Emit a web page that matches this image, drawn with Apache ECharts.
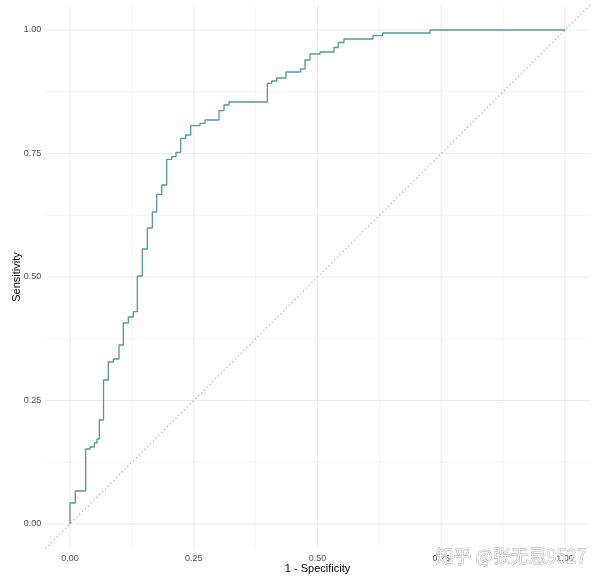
<!DOCTYPE html>
<html>
<head>
<meta charset="utf-8">
<script src="https://cdn.jsdelivr.net/npm/echarts@6/dist/echarts.min.js"></script>
<style>html,body{margin:0;padding:0;background:#fff;}#c{width:600px;height:581px;}</style>
</head>
<body>
<div id="c"></div>
<script>
// ROC curve points (1 - specificity, sensitivity)
const fpr = [0,0,0.0107,0.0107,0.0317,0.0317,0.0404,0.0404,0.0491,0.0491,0.0545,0.0545,0.0592,0.0592,0.0677,0.0677,0.0774,0.0774,0.0875,0.0875,0.0990,0.0990,0.1077,0.1077,0.1178,0.1178,0.1279,0.1279,0.1360,0.1360,0.1461,0.1461,0.1562,0.1562,0.1663,0.1663,0.1752,0.1752,0.1853,0.1853,0.1954,0.1954,0.2055,0.2055,0.2141,0.2141,0.2236,0.2236,0.2337,0.2337,0.2438,0.2438,0.2626,0.2626,0.2727,0.2727,0.3010,0.3010,0.3111,0.3111,0.3212,0.3212,0.3986,0.3986,0.4075,0.4075,0.4176,0.4176,0.4364,0.4364,0.4657,0.4657,0.4747,0.4747,0.4848,0.4848,0.5051,0.5051,0.5333,0.5333,0.5420,0.5420,0.5535,0.5535,0.6121,0.6121,0.6317,0.6317,0.7273,0.7273,1.0];
const tpr = [0,0.0425,0.0425,0.0668,0.0668,0.1518,0.1518,0.1559,0.1559,0.1640,0.1640,0.1721,0.1721,0.2105,0.2105,0.2915,0.2915,0.3279,0.3279,0.3340,0.3340,0.3623,0.3623,0.4069,0.4069,0.4190,0.4190,0.4298,0.4298,0.5020,0.5020,0.5567,0.5567,0.5992,0.5992,0.6316,0.6316,0.6674,0.6674,0.6862,0.6862,0.7383,0.7383,0.7435,0.7435,0.7524,0.7524,0.7808,0.7808,0.7874,0.7874,0.8063,0.8063,0.8111,0.8111,0.8178,0.8178,0.8366,0.8366,0.8482,0.8482,0.8543,0.8543,0.8921,0.8921,0.8968,0.8968,0.9028,0.9028,0.9150,0.9150,0.9211,0.9211,0.9393,0.9393,0.9514,0.9514,0.9555,0.9555,0.9646,0.9646,0.9747,0.9747,0.9818,0.9818,0.9885,0.9885,0.9939,0.9939,1.0,1.0];
// reference diagonal (spans the whole panel)
const diagX = [-0.05, 1.05];
const diagY = [-0.05, 1.05];
// panel range
const panelMin = -0.05, panelMax = 1.05;
// ticks
const majorTicks = [0, 0.25, 0.5, 0.75, 1];
const minorTicks = [0.125, 0.375, 0.625, 0.875];
const xTitle = '1 - Specificity';
const yTitle = 'Sensitivity';

const roc = fpr.map((x, i) => [x, tpr[i]]);
const diag = diagX.map((x, i) => [x, diagY[i]]);

const gridSeries = [];
function addGrid(v, color) {
  gridSeries.push({type: 'line', data: [[v, panelMin], [v, panelMax]], z: 0, silent: true, symbol: 'none', lineStyle: {color, width: 1}});
  gridSeries.push({type: 'line', data: [[panelMin, v], [panelMax, v]], z: 0, silent: true, symbol: 'none', lineStyle: {color, width: 1}});
}
minorTicks.forEach(v => addGrid(v, '#f4f4f4'));
majorTicks.forEach(v => addGrid(v, '#ebebeb'));

const labelStyle = {fontFamily: 'Liberation Sans, Arial, sans-serif', fontSize: 9, color: '#4d4d4d'};
const chart = echarts.init(document.getElementById('c'), null, {renderer: 'canvas'});
chart.setOption({
  animation: false,
  backgroundColor: '#ffffff',
  grid: {left: 45.25, right: 10.25, top: 5.3, bottom: 32.3, containLabel: false, outerBoundsMode: 'none'},
  xAxis: {
    type: 'value', min: panelMin, max: panelMax,
    name: xTitle, nameLocation: 'middle', nameGap: 15, nameMoveOverlap: false,
    nameTextStyle: {fontFamily: 'Liberation Sans, Arial, sans-serif', fontSize: 11, color: '#000'},
    axisLine: {show: false}, axisTick: {show: false}, splitLine: {show: false},
    axisLabel: Object.assign({customValues: majorTicks, margin: 5, formatter: v => v.toFixed(2)}, labelStyle)
  },
  yAxis: {
    type: 'value', min: panelMin, max: panelMax,
    name: yTitle, nameLocation: 'middle', nameGap: 23, nameMoveOverlap: false,
    nameTextStyle: {fontFamily: 'Liberation Sans, Arial, sans-serif', fontSize: 11, color: '#000'},
    axisLine: {show: false}, axisTick: {show: false}, splitLine: {show: false},
    axisLabel: Object.assign({customValues: majorTicks, margin: 4, formatter: v => v.toFixed(2)}, labelStyle)
  },
  series: gridSeries.concat([
    {
      type: 'line', data: diag, z: 1, silent: true, symbol: 'none',
      lineStyle: {color: '#b8b8b8', width: 1.2, type: [1.5, 2.5]}
    },
    {
      type: 'line', data: roc, z: 3, silent: true, symbol: 'none',
      lineStyle: {color: '#4f9a9a', width: 1.3}
    }
  ]),
  graphic: [{
    type: 'text', right: 13, top: 547, z: 100, silent: true,
    style: {text: '知乎 @张无忌9527', font: '18px "Noto Sans CJK SC", sans-serif', fill: 'rgba(255,255,255,0.85)', stroke: '#a8a8a8', lineWidth: 0.8}
  }]
});
</script>
</body>
</html>
